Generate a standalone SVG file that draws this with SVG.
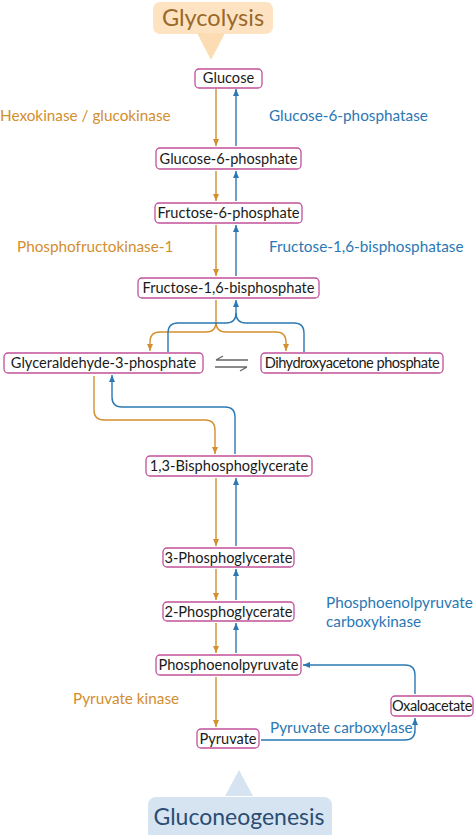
<svg xmlns="http://www.w3.org/2000/svg" width="474" height="835" viewBox="0 0 474 835">
<style>
.box{fill:#fff;stroke:#c2509b;stroke-width:1.3}
.nt{font-family:Lato,"Liberation Sans",sans-serif;font-size:14.6px;fill:#1a1a1a;text-anchor:middle}
.lo{font-family:Lato,"Liberation Sans",sans-serif;font-size:15.3px;fill:#d38e2e}
.lb{font-family:Lato,"Liberation Sans",sans-serif;font-size:15.3px;fill:#2b78b4}
.o{fill:none;stroke:#d3902e;stroke-width:1.4}
.b{fill:none;stroke:#2b78b4;stroke-width:1.4}
.g{fill:none;stroke:#666;stroke-width:1.4}
</style>
<defs>
<marker id="ao" markerUnits="userSpaceOnUse" markerWidth="8" markerHeight="8" refX="7" refY="3" orient="auto"><path d="M0,0 L7,3 L0,6 Z" fill="#d3902e"/></marker>
<marker id="ab" markerUnits="userSpaceOnUse" markerWidth="8" markerHeight="8" refX="7" refY="3" orient="auto"><path d="M0,0 L7,3 L0,6 Z" fill="#2b78b4"/></marker>
</defs>

<g id="glycolysis-banner">
<rect x="153" y="2" width="120" height="32" rx="7" fill="#fde3c2"/>
<polygon points="197,33 225,33 211,60" fill="#fcdcb2"/>
<text x="213" y="26" font-family="Lato,'Liberation Sans',sans-serif" font-size="23.5" fill="#99692a" text-anchor="middle">Glycolysis</text>
</g>

<g id="gluconeogenesis-banner">
<polygon points="225,796 253,796 239,770" fill="#d6e4f2"/>
<rect x="148" y="797" width="184" height="46" rx="8" fill="#d6e4f2"/>
<text x="239" y="825" font-family="Lato,'Liberation Sans',sans-serif" font-size="23" fill="#2b4d72" text-anchor="middle">Gluconeogenesis</text>
</g>

<g id="connectors">
<line class="o" x1="216" y1="89" x2="216" y2="146" marker-end="url(#ao)"/>
<line class="b" x1="236" y1="146" x2="236" y2="89" marker-end="url(#ab)"/>
<line class="o" x1="216" y1="171" x2="216" y2="201" marker-end="url(#ao)"/>
<line class="b" x1="236" y1="201" x2="236" y2="171" marker-end="url(#ab)"/>
<line class="o" x1="216" y1="225" x2="216" y2="276" marker-end="url(#ao)"/>
<line class="b" x1="236" y1="276" x2="236" y2="225" marker-end="url(#ab)"/>
<path class="o" d="M216,300 V322 Q216,332 206,332 H160 Q150,332 150,342 V351" marker-end="url(#ao)"/>
<path class="o" d="M216,322 Q216,332 226,332 H276 Q286,332 286,342 V351" marker-end="url(#ao)"/>
<path class="b" d="M168,352 V333 Q168,323 178,323 H226 Q236,323 236,313 V300" marker-end="url(#ab)"/>
<path class="b" d="M304,352 V333 Q304,323 294,323 H246 Q236,323 236,313"/>
<path class="g" d="M248,360 H216 M216,360 L223,356"/>
<path class="g" d="M215,367 H247 M247,367 L240,371"/>
<path class="o" d="M94,376 V410 Q94,420 104,420 H205 Q215,420 215,430 V454" marker-end="url(#ao)"/>
<path class="b" d="M235,454 V417 Q235,407 225,407 H122 Q112,407 112,397 V375" marker-end="url(#ab)"/>
<line class="o" x1="216" y1="478" x2="216" y2="546" marker-end="url(#ao)"/>
<line class="b" x1="236" y1="546" x2="236" y2="478" marker-end="url(#ab)"/>
<line class="o" x1="216" y1="569" x2="216" y2="600" marker-end="url(#ao)"/>
<line class="b" x1="236" y1="600" x2="236" y2="569" marker-end="url(#ab)"/>
<line class="o" x1="216" y1="623" x2="216" y2="653" marker-end="url(#ao)"/>
<line class="b" x1="236" y1="653" x2="236" y2="623" marker-end="url(#ab)"/>
<line class="o" x1="216" y1="677" x2="216" y2="727" marker-end="url(#ao)"/>
<path class="b" d="M415,694 V675 Q415,665 405,665 H303" marker-end="url(#ab)"/>
<path class="b" d="M261,740 H405 Q415,740 415,730 V718" marker-end="url(#ab)"/>
</g>

<g id="labels">
<text class="lo" x="0" y="121">Hexokinase / glucokinase</text>
<text class="lb" x="269" y="121">Glucose-6-phosphatase</text>
<text class="lo" x="17" y="252">Phosphofructokinase-1</text>
<text class="lb" x="269" y="252">Fructose-1,6-bisphosphatase</text>
<text class="lb" x="326" y="608">Phosphoenolpyruvate</text>
<text class="lb" x="326" y="627">carboxykinase</text>
<text class="lo" x="73" y="704">Pyruvate kinase</text>
<text class="lb" x="270" y="733">Pyruvate carboxylase</text>
</g>

<g id="glucose"><rect class="box" x="195" y="69" width="67" height="19" rx="4"/><text class="nt" x="228.5" y="83">Glucose</text></g>
<g id="g6p"><rect class="box" x="156" y="148" width="145" height="21" rx="4"/><text class="nt" x="228.5" y="163.5">Glucose-6-phosphate</text></g>
<g id="f6p"><rect class="box" x="155" y="203" width="147" height="20" rx="4"/><text class="nt" x="228.5" y="218">Fructose-6-phosphate</text></g>
<g id="f16bp"><rect class="box" x="138" y="278" width="181" height="20" rx="4"/><text class="nt" x="228.5" y="293">Fructose-1,6-bisphosphate</text></g>
<g id="gap"><rect class="box" x="4" y="353" width="199" height="20" rx="4"/><text class="nt" x="103.5" y="368">Glyceraldehyde-3-phosphate</text></g>
<g id="dhap"><rect class="box" x="261" y="353" width="182" height="20" rx="4"/><text class="nt" x="352" y="368" letter-spacing="-0.5">Dihydroxyacetone phosphate</text></g>
<g id="bpg13"><rect class="box" x="146" y="456" width="166" height="20" rx="4"/><text class="nt" x="229" y="471">1,3-Bisphosphoglycerate</text></g>
<g id="pg3"><rect class="box" x="163" y="548" width="131" height="19" rx="4"/><text class="nt" x="228.5" y="562.5">3-Phosphoglycerate</text></g>
<g id="pg2"><rect class="box" x="163" y="602" width="131" height="19" rx="4"/><text class="nt" x="228.5" y="616.5">2-Phosphoglycerate</text></g>
<g id="pep"><rect class="box" x="156" y="655" width="145" height="20" rx="4"/><text class="nt" x="228.5" y="670">Phosphoenolpyruvate</text></g>
<g id="pyruvate"><rect class="box" x="197" y="729" width="62" height="19" rx="4"/><text class="nt" x="228" y="743.5">Pyruvate</text></g>
<g id="oxaloacetate"><rect class="box" x="391" y="696" width="82" height="20" rx="4"/><text class="nt" x="432" y="711" letter-spacing="-0.4">Oxaloacetate</text></g>
</svg>
